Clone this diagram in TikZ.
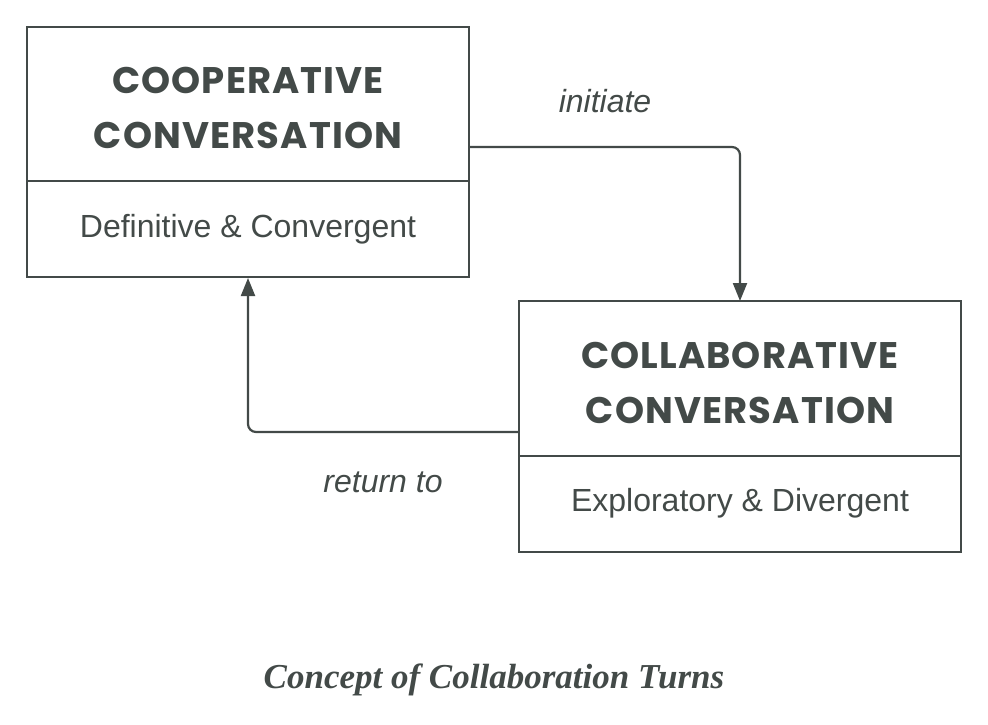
\documentclass[tikz,border=0pt]{standalone}
\usepackage{fontspec}
\setmainfont{Liberation Sans}
\newfontfamily\headfont{Poppins}[UprightFont=* Bold,LetterSpace=3]
\newfontfamily\capfont{Liberation Serif}
\usetikzlibrary{arrows.meta}
\definecolor{ink}{HTML}{434A48}
\tikzset{
 box/.style={draw=ink,line width=2pt},
 conn/.style={draw=ink,line width=2.2pt,rounded corners=8pt,-{Triangle[length=18pt,width=14pt]}},
 head/.style={text=ink,font=\headfont\fontsize{37}{55}\selectfont,align=center},
 sub/.style={text=ink,font=\fontsize{32}{36}\selectfont},
 lab/.style={text=ink,font=\itshape\fontsize{32}{36}\selectfont},
}
\begin{document}
\begin{tikzpicture}[x=1pt,y=-1pt]
\useasboundingbox (0,0) rectangle (988,724);
\draw[box] (27,27) rectangle (469,277);
\draw[box] (27,181) -- (469,181);
\node[head] (h1) at (248,108) {COOPERATIVE\\CONVERSATION};
\node[sub] (s1) at (248,229) {Definitive \& Convergent};
\draw[box] (519,301) rectangle (961,552);
\draw[box] (519,456) -- (961,456);
\node[head] (h2) at (740,383) {COLLABORATIVE\\CONVERSATION};
\node[sub] (s2) at (740,503) {Exploratory \& Divergent};
\coordinate (a1) at (470,147);
\coordinate (a2) at (740,301);
\coordinate (b1) at (518,432);
\coordinate (b2) at (248,278);
\draw[conn] (a1) -| (a2);
\draw[conn] (b1) -| (b2);
\node[lab] (li) at (605,101) {initiate};
\node[lab] (lr) at (383,482) {return to};
\node[text=ink,font=\capfont\bfseries\itshape\fontsize{35}{40}\selectfont] (cap) at (494,680) {Concept of Collaboration Turns};
\end{tikzpicture}
\end{document}
